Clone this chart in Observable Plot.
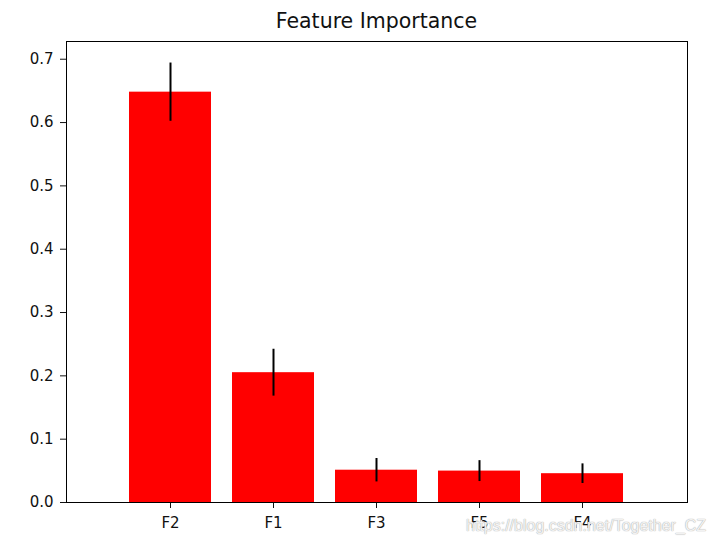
<!DOCTYPE html>
<html>
<head>
<meta charset="utf-8">
<script src="https://cdn.jsdelivr.net/npm/d3@7"></script>
<script src="https://cdn.jsdelivr.net/npm/@observablehq/plot@0.6"></script>
<style>
  html, body { margin: 0; padding: 0; background: #fff; }
  #wrap { position: relative; width: 714px; height: 546px; overflow: hidden; }
  #title { box-sizing: border-box; height: 36px; padding-top: 6px; padding-left: 66px; width: 687px;
           line-height: 30px; font-size: 20.5px; text-align: center; font-family: "DejaVu Sans"; color: #111; }
  #wm { position: absolute; left: 466px; top: 517px; font-family: "Liberation Sans", Arial; font-size: 16px;
        color: rgba(255,255,255,0.85); text-shadow: 0 0 1px #aaa, 0 0 1px #bbb; white-space: nowrap; }
</style>
</head>
<body>
<div id="wrap">
  <div id="title">Feature Importance</div>
  <div id="chart"></div>
  <div id="wm">https://blog.csdn.net/Together_CZ</div>
</div>
<script>
const features = ["F2", "F1", "F3", "F5", "F4"];
const importances = [0.648, 0.205, 0.051, 0.0496, 0.0455];
const errors = [0.046, 0.037, 0.0185, 0.0165, 0.0155];
const yTicks = [0, 0.1, 0.2, 0.3, 0.4, 0.5, 0.6, 0.7];

const data = features.map((f, i) => ({feature: f, value: importances[i], err: errors[i]}));

const chart = Plot.plot({
  width: 714,
  height: 510,
  marginTop: 5,
  marginLeft: 66,
  marginRight: 27,
  marginBottom: 44,
  style: {fontFamily: "DejaVu Sans", fontSize: "15px", color: "#111", background: "white", overflow: "visible"},
  x: {domain: features, paddingInner: 0.2, paddingOuter: 0.6, label: null, tickSize: 6, tickPadding: 9},
  y: {domain: [0, 0.728], ticks: yTicks, tickFormat: d3.format(".1f"), label: null, tickSize: 6, tickPadding: 7},
  marks: [
    Plot.barY(data, {x: "feature", y: "value", fill: "#ff0000"}),
    Plot.ruleX(data, {x: "feature", y1: d => d.value - d.err, y2: d => d.value + d.err, stroke: "black", strokeWidth: 2}),
    Plot.frame({stroke: "black", strokeWidth: 1})
  ]
});
document.getElementById("chart").appendChild(chart);
</script>
</body>
</html>
